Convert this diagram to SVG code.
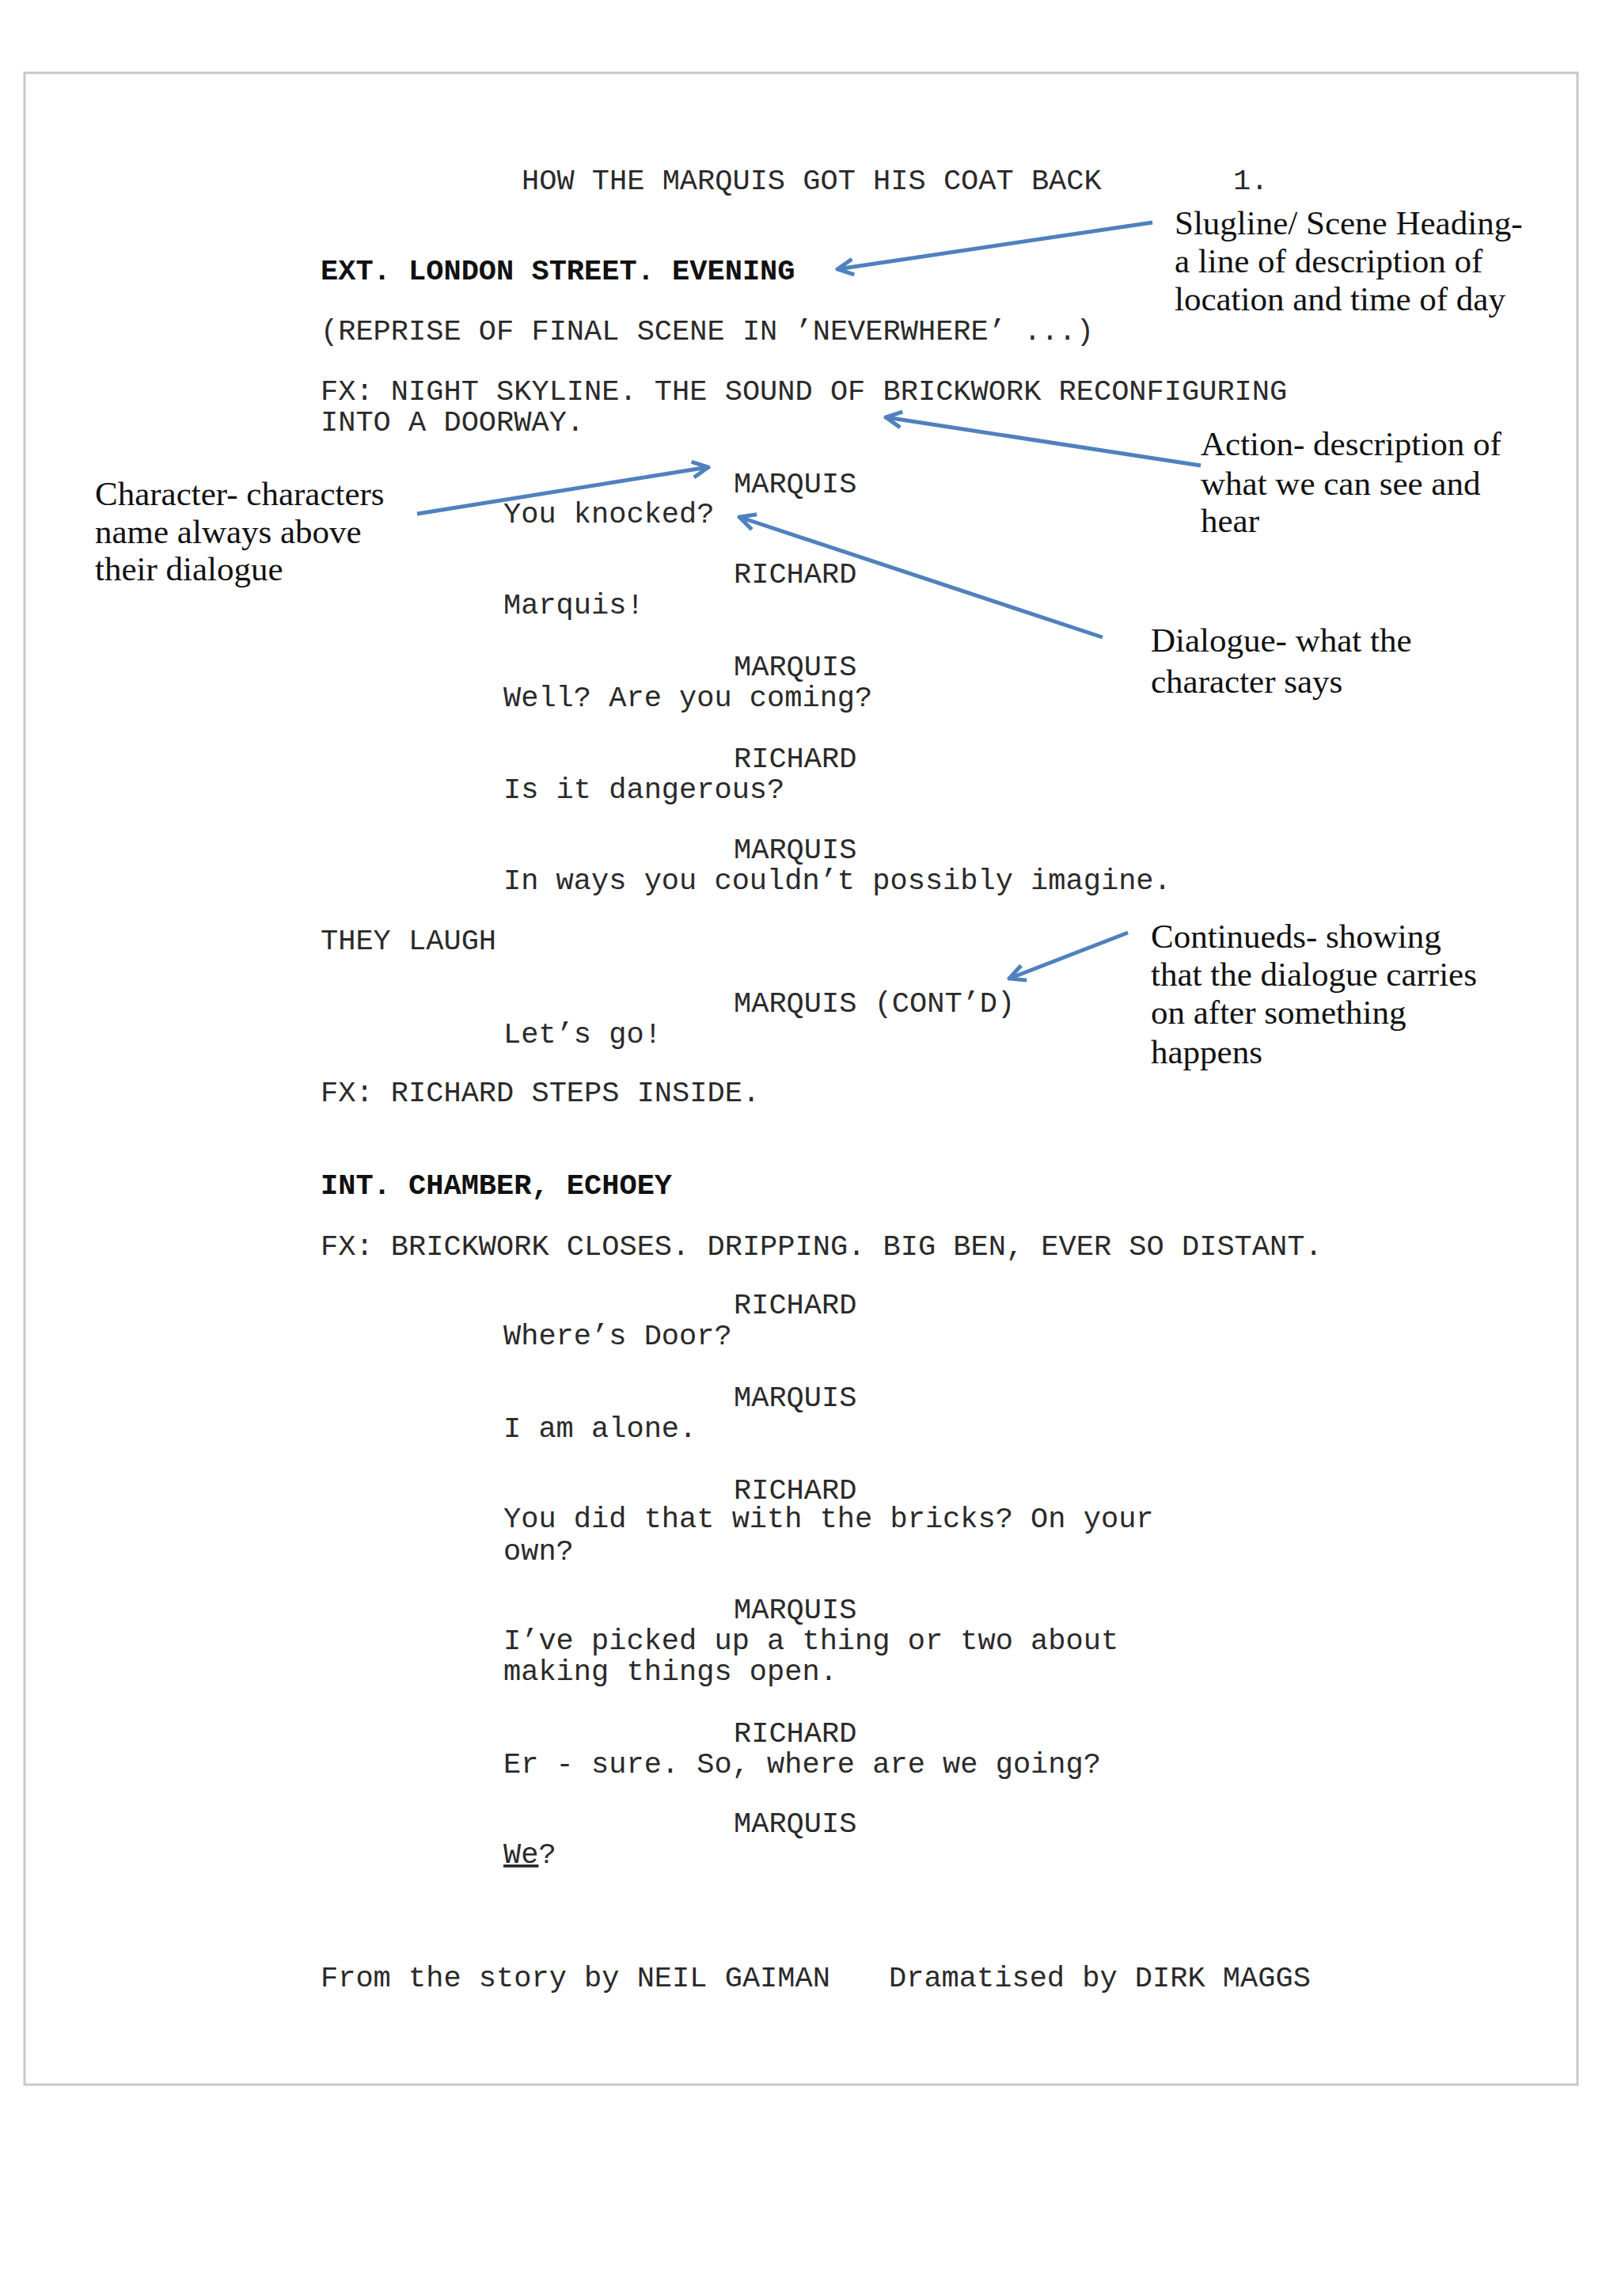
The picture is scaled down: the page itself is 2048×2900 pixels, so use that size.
<svg xmlns="http://www.w3.org/2000/svg" width="2048" height="2900" viewBox="0 0 2048 2900">
<style>
.m{font-family:"Liberation Mono",monospace;font-size:37px;fill:#2a2a2a}
.b{font-weight:bold;fill:#111}
.a{font-family:"Liberation Serif","DejaVu Serif",serif;font-size:43px;fill:#111}
.c{stroke:#4f81bd;stroke-width:5;fill:none}
</style>
<defs>
<marker id="h" viewBox="0 0 10 10" refX="9" refY="5" markerWidth="5" markerHeight="5" orient="auto" markerUnits="strokeWidth">
<polyline points="1,1 9,5 1,9" fill="none" stroke="#4f81bd" stroke-width="2"/>
</marker>
</defs>
<rect width="2048" height="2900" fill="#fff"/>
<rect x="31" y="92" width="1962" height="2541" fill="#fff" stroke="#c8c8c8" stroke-width="3"/>
<g id="script">
<text class="m" x="659" y="239">HOW THE MARQUIS GOT HIS COAT BACK</text>
<text class="m" x="1558" y="239">1.</text>
<text class="m b" x="405" y="353">EXT. LONDON STREET. EVENING</text>
<text class="m" x="405" y="429">(REPRISE OF FINAL SCENE IN ’NEVERWHERE’ ...)</text>
<text class="m" x="405" y="505">FX: NIGHT SKYLINE. THE SOUND OF BRICKWORK RECONFIGURING</text>
<text class="m" x="405" y="544">INTO A DOORWAY.</text>
<text class="m" x="927" y="622">MARQUIS</text>
<text class="m" x="636" y="660">You knocked?</text>
<text class="m" x="927" y="736">RICHARD</text>
<text class="m" x="636" y="775">Marquis!</text>
<text class="m" x="927" y="853">MARQUIS</text>
<text class="m" x="636" y="892">Well? Are you coming?</text>
<text class="m" x="927" y="969">RICHARD</text>
<text class="m" x="636" y="1008">Is it dangerous?</text>
<text class="m" x="927" y="1084">MARQUIS</text>
<text class="m" x="636" y="1123">In ways you couldn’t possibly imagine.</text>
<text class="m" x="405" y="1199">THEY LAUGH</text>
<text class="m" x="927" y="1278">MARQUIS (CONT’D)</text>
<text class="m" x="636" y="1317">Let’s go!</text>
<text class="m" x="405" y="1391">FX: RICHARD STEPS INSIDE.</text>
<text class="m b" x="405" y="1508">INT. CHAMBER, ECHOEY</text>
<text class="m" x="405" y="1585">FX: BRICKWORK CLOSES. DRIPPING. BIG BEN, EVER SO DISTANT.</text>
<text class="m" x="927" y="1659">RICHARD</text>
<text class="m" x="636" y="1698">Where’s Door?</text>
<text class="m" x="927" y="1776">MARQUIS</text>
<text class="m" x="636" y="1815">I am alone.</text>
<text class="m" x="927" y="1893">RICHARD</text>
<text class="m" x="636" y="1929">You did that with the bricks? On your</text>
<text class="m" x="636" y="1970">own?</text>
<text class="m" x="927" y="2044">MARQUIS</text>
<text class="m" x="636" y="2083">I’ve picked up a thing or two about</text>
<text class="m" x="636" y="2122">making things open.</text>
<text class="m" x="927" y="2200">RICHARD</text>
<text class="m" x="636" y="2239">Er - sure. So, where are we going?</text>
<text class="m" x="927" y="2314">MARQUIS</text>
<text class="m" x="636" y="2353"><tspan text-decoration="underline">We</tspan>?</text>
<text class="m" x="405" y="2509">From the story by NEIL GAIMAN</text>
<text class="m" x="1123" y="2509">Dramatised by DIRK MAGGS</text>
</g>
<g id="slugline"><text class="a" x="1484" y="296">Slugline/ Scene Heading-</text><text class="a" x="1484" y="344">a line of description of</text><text class="a" x="1484" y="392">location and time of day</text></g>
<g id="action"><text class="a" x="1517" y="575">Action- description of</text><text class="a" x="1517" y="625">what we can see and</text><text class="a" x="1517" y="672">hear</text></g>
<g id="character"><text class="a" x="120" y="638">Character- characters</text><text class="a" x="120" y="686">name always above</text><text class="a" x="120" y="733">their dialogue</text></g>
<g id="dialogue"><text class="a" x="1454" y="823">Dialogue- what the</text><text class="a" x="1454" y="875">character says</text></g>
<g id="continueds"><text class="a" x="1454" y="1197">Continueds- showing</text><text class="a" x="1454" y="1245">that the dialogue carries</text><text class="a" x="1454" y="1293">on after something</text><text class="a" x="1454" y="1343">happens</text></g>
<g id="connectors">
<line class="c" x1="1456" y1="281" x2="1058" y2="340" marker-end="url(#h)"/>
<line class="c" x1="1517" y1="588" x2="1119" y2="527" marker-end="url(#h)"/>
<line class="c" x1="527" y1="649" x2="895" y2="590" marker-end="url(#h)"/>
<line class="c" x1="1393" y1="805" x2="934" y2="653" marker-end="url(#h)"/>
<line class="c" x1="1425" y1="1178" x2="1275" y2="1236" stroke-width="4" marker-end="url(#h)"/>
</g>
</svg>
